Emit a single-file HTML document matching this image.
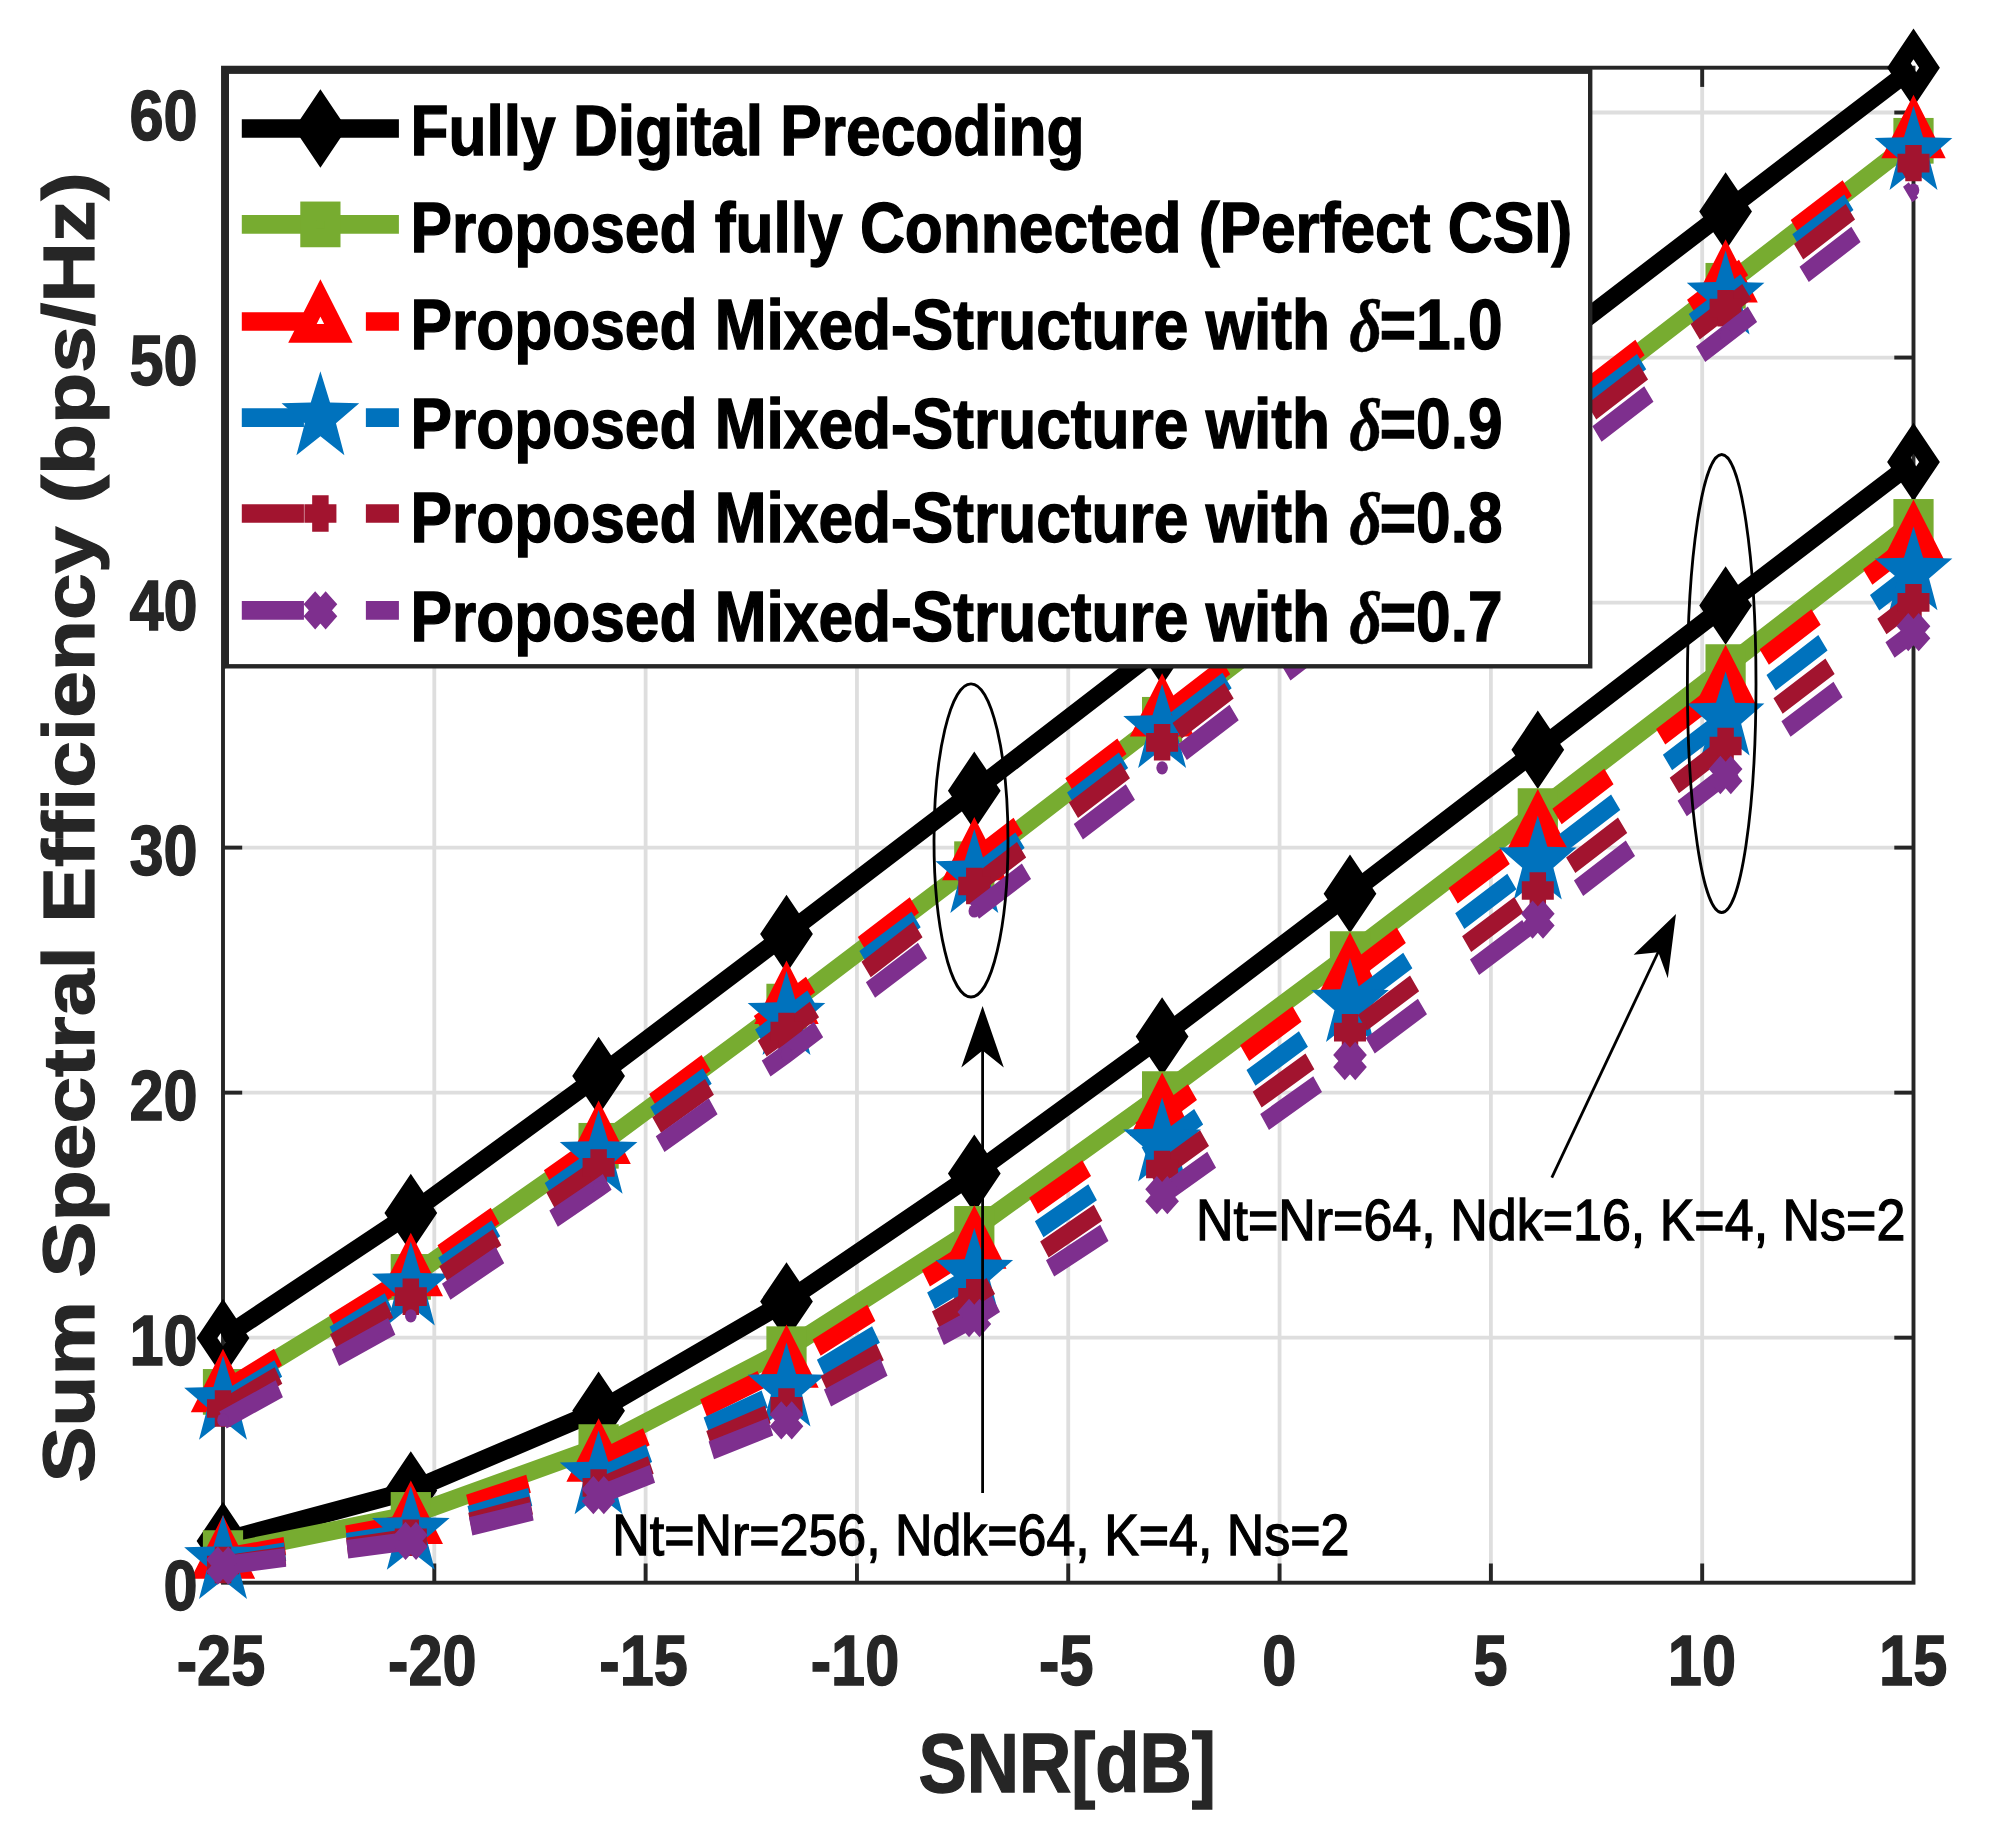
<!DOCTYPE html>
<html lang="en"><head><meta charset="utf-8"><title>Sum Spectral Efficiency vs SNR</title>
<style>html,body{margin:0;padding:0;background:#fff}svg{display:block}text{font-kerning:none;white-space:pre}.b{font-family:"Liberation Sans",sans-serif;font-weight:bold;stroke-width:1.4px;stroke-linejoin:miter}.r{font-family:"Liberation Sans",sans-serif;font-weight:normal;stroke-width:1.3px;stroke-linejoin:miter}.d{font-family:"Liberation Serif","DejaVu Serif",serif;font-style:italic;font-weight:bold;stroke-width:0.6px}</style></head><body>
<svg width="2015" height="1840" viewBox="0 0 2015 1840">
<rect x="0" y="0" width="2015" height="1840" fill="#fff"/>
<g stroke="#dedede" stroke-width="3.8" fill="none">
<line x1="434.31" y1="67.7" x2="434.31" y2="1582.7"/>
<line x1="645.62" y1="67.7" x2="645.62" y2="1582.7"/>
<line x1="856.94" y1="67.7" x2="856.94" y2="1582.7"/>
<line x1="1068.25" y1="67.7" x2="1068.25" y2="1582.7"/>
<line x1="1279.56" y1="67.7" x2="1279.56" y2="1582.7"/>
<line x1="1490.88" y1="67.7" x2="1490.88" y2="1582.7"/>
<line x1="1702.19" y1="67.7" x2="1702.19" y2="1582.7"/>
<line x1="223" y1="1337.67" x2="1913.5" y2="1337.67"/>
<line x1="223" y1="1092.64" x2="1913.5" y2="1092.64"/>
<line x1="223" y1="847.61" x2="1913.5" y2="847.61"/>
<line x1="223" y1="602.58" x2="1913.5" y2="602.58"/>
<line x1="223" y1="357.55" x2="1913.5" y2="357.55"/>
<line x1="223" y1="112.52" x2="1913.5" y2="112.52"/>
</g>
<g stroke="#262626" stroke-width="3.9" fill="none" stroke-linecap="butt">
<rect x="223" y="67.7" width="1690.5" height="1515"/>
<line x1="434.31" y1="1582.7" x2="434.31" y2="1563.5"/>
<line x1="434.31" y1="67.7" x2="434.31" y2="86.9"/>
<line x1="645.62" y1="1582.7" x2="645.62" y2="1563.5"/>
<line x1="645.62" y1="67.7" x2="645.62" y2="86.9"/>
<line x1="856.94" y1="1582.7" x2="856.94" y2="1563.5"/>
<line x1="856.94" y1="67.7" x2="856.94" y2="86.9"/>
<line x1="1068.25" y1="1582.7" x2="1068.25" y2="1563.5"/>
<line x1="1068.25" y1="67.7" x2="1068.25" y2="86.9"/>
<line x1="1279.56" y1="1582.7" x2="1279.56" y2="1563.5"/>
<line x1="1279.56" y1="67.7" x2="1279.56" y2="86.9"/>
<line x1="1490.88" y1="1582.7" x2="1490.88" y2="1563.5"/>
<line x1="1490.88" y1="67.7" x2="1490.88" y2="86.9"/>
<line x1="1702.19" y1="1582.7" x2="1702.19" y2="1563.5"/>
<line x1="1702.19" y1="67.7" x2="1702.19" y2="86.9"/>
<line x1="223" y1="1337.67" x2="242.2" y2="1337.67"/>
<line x1="1913.5" y1="1337.67" x2="1894.3" y2="1337.67"/>
<line x1="223" y1="1092.64" x2="242.2" y2="1092.64"/>
<line x1="1913.5" y1="1092.64" x2="1894.3" y2="1092.64"/>
<line x1="223" y1="847.61" x2="242.2" y2="847.61"/>
<line x1="1913.5" y1="847.61" x2="1894.3" y2="847.61"/>
<line x1="223" y1="602.58" x2="242.2" y2="602.58"/>
<line x1="1913.5" y1="602.58" x2="1894.3" y2="602.58"/>
<line x1="223" y1="357.55" x2="242.2" y2="357.55"/>
<line x1="1913.5" y1="357.55" x2="1894.3" y2="357.55"/>
<line x1="223" y1="112.52" x2="242.2" y2="112.52"/>
<line x1="1913.5" y1="112.52" x2="1894.3" y2="112.52"/>
</g>
<g transform="scale(0.88,1)">
<polyline points="253.41,1338 466.82,1213 680.23,1076 893.75,934 1107.16,790.7 1320.57,646.1 1534.09,500.8 1747.5,355.5 1960.91,211.4 2174.43,67.7" fill="none" stroke="#000000" stroke-width="18.7" stroke-linejoin="miter" stroke-linecap="butt"/>
<path transform="translate(253.41,1338)" d="M0,-23.8 L18.2,0 L0,23.8 L-18.2,0 Z" fill="none" stroke="#000000" stroke-width="18.7" stroke-linejoin="miter" stroke-miterlimit="10"/>
<path transform="translate(466.82,1213)" d="M0,-23.8 L18.2,0 L0,23.8 L-18.2,0 Z" fill="none" stroke="#000000" stroke-width="18.7" stroke-linejoin="miter" stroke-miterlimit="10"/>
<path transform="translate(680.23,1076)" d="M0,-23.8 L18.2,0 L0,23.8 L-18.2,0 Z" fill="none" stroke="#000000" stroke-width="18.7" stroke-linejoin="miter" stroke-miterlimit="10"/>
<path transform="translate(893.75,934)" d="M0,-23.8 L18.2,0 L0,23.8 L-18.2,0 Z" fill="none" stroke="#000000" stroke-width="18.7" stroke-linejoin="miter" stroke-miterlimit="10"/>
<path transform="translate(1107.16,790.7)" d="M0,-23.8 L18.2,0 L0,23.8 L-18.2,0 Z" fill="none" stroke="#000000" stroke-width="18.7" stroke-linejoin="miter" stroke-miterlimit="10"/>
<path transform="translate(1320.57,646.1)" d="M0,-23.8 L18.2,0 L0,23.8 L-18.2,0 Z" fill="none" stroke="#000000" stroke-width="18.7" stroke-linejoin="miter" stroke-miterlimit="10"/>
<path transform="translate(1534.09,500.8)" d="M0,-23.8 L18.2,0 L0,23.8 L-18.2,0 Z" fill="none" stroke="#000000" stroke-width="18.7" stroke-linejoin="miter" stroke-miterlimit="10"/>
<path transform="translate(1747.5,355.5)" d="M0,-23.8 L18.2,0 L0,23.8 L-18.2,0 Z" fill="none" stroke="#000000" stroke-width="18.7" stroke-linejoin="miter" stroke-miterlimit="10"/>
<path transform="translate(1960.91,211.4)" d="M0,-23.8 L18.2,0 L0,23.8 L-18.2,0 Z" fill="none" stroke="#000000" stroke-width="18.7" stroke-linejoin="miter" stroke-miterlimit="10"/>
<path transform="translate(2174.43,67.7)" d="M0,-23.8 L18.2,0 L0,23.8 L-18.2,0 Z" fill="none" stroke="#000000" stroke-width="18.7" stroke-linejoin="miter" stroke-miterlimit="10"/>
<polyline points="253.41,1391.9 466.82,1276.9 680.23,1145.8 893.75,1006.6 1107.16,864.2 1320.57,719.8 1534.09,575.7 1747.5,430.7 1960.91,285.8 2174.43,140.8" fill="none" stroke="#77AC30" stroke-width="18.7" stroke-linejoin="miter" stroke-linecap="butt"/>
<rect transform="translate(253.41,1391.9)" x="-13.5" y="-13.5" width="27" height="27" fill="none" stroke="#77AC30" stroke-width="18.7" stroke-linejoin="miter"/>
<rect transform="translate(466.82,1276.9)" x="-13.5" y="-13.5" width="27" height="27" fill="none" stroke="#77AC30" stroke-width="18.7" stroke-linejoin="miter"/>
<rect transform="translate(680.23,1145.8)" x="-13.5" y="-13.5" width="27" height="27" fill="none" stroke="#77AC30" stroke-width="18.7" stroke-linejoin="miter"/>
<rect transform="translate(893.75,1006.6)" x="-13.5" y="-13.5" width="27" height="27" fill="none" stroke="#77AC30" stroke-width="18.7" stroke-linejoin="miter"/>
<rect transform="translate(1107.16,864.2)" x="-13.5" y="-13.5" width="27" height="27" fill="none" stroke="#77AC30" stroke-width="18.7" stroke-linejoin="miter"/>
<rect transform="translate(1320.57,719.8)" x="-13.5" y="-13.5" width="27" height="27" fill="none" stroke="#77AC30" stroke-width="18.7" stroke-linejoin="miter"/>
<rect transform="translate(1534.09,575.7)" x="-13.5" y="-13.5" width="27" height="27" fill="none" stroke="#77AC30" stroke-width="18.7" stroke-linejoin="miter"/>
<rect transform="translate(1747.5,430.7)" x="-13.5" y="-13.5" width="27" height="27" fill="none" stroke="#77AC30" stroke-width="18.7" stroke-linejoin="miter"/>
<rect transform="translate(1960.91,285.8)" x="-13.5" y="-13.5" width="27" height="27" fill="none" stroke="#77AC30" stroke-width="18.7" stroke-linejoin="miter"/>
<rect transform="translate(2174.43,140.8)" x="-13.5" y="-13.5" width="27" height="27" fill="none" stroke="#77AC30" stroke-width="18.7" stroke-linejoin="miter"/>
<polyline points="253.41,1391 466.82,1275 680.23,1142.8 893.75,1002.8 1107.16,859.2 1320.57,715.4 1534.09,570.8 1747.5,426.3 1960.91,281.4 2174.43,137.1" fill="none" stroke="#FF0000" stroke-width="18.7" stroke-linejoin="miter" stroke-linecap="butt" stroke-dasharray="71.2 71.0"/>
<path transform="translate(253.41,1391)" d="M0,-23.56 L20.4,11.78 L-20.4,11.78 Z" fill="none" stroke="#FF0000" stroke-width="18.7" stroke-linejoin="miter" stroke-miterlimit="10"/>
<path transform="translate(466.82,1275)" d="M0,-23.56 L20.4,11.78 L-20.4,11.78 Z" fill="none" stroke="#FF0000" stroke-width="18.7" stroke-linejoin="miter" stroke-miterlimit="10"/>
<path transform="translate(680.23,1142.8)" d="M0,-23.56 L20.4,11.78 L-20.4,11.78 Z" fill="none" stroke="#FF0000" stroke-width="18.7" stroke-linejoin="miter" stroke-miterlimit="10"/>
<path transform="translate(893.75,1002.8)" d="M0,-23.56 L20.4,11.78 L-20.4,11.78 Z" fill="none" stroke="#FF0000" stroke-width="18.7" stroke-linejoin="miter" stroke-miterlimit="10"/>
<path transform="translate(1107.16,859.2)" d="M0,-23.56 L20.4,11.78 L-20.4,11.78 Z" fill="none" stroke="#FF0000" stroke-width="18.7" stroke-linejoin="miter" stroke-miterlimit="10"/>
<path transform="translate(1320.57,715.4)" d="M0,-23.56 L20.4,11.78 L-20.4,11.78 Z" fill="none" stroke="#FF0000" stroke-width="18.7" stroke-linejoin="miter" stroke-miterlimit="10"/>
<path transform="translate(1534.09,570.8)" d="M0,-23.56 L20.4,11.78 L-20.4,11.78 Z" fill="none" stroke="#FF0000" stroke-width="18.7" stroke-linejoin="miter" stroke-miterlimit="10"/>
<path transform="translate(1747.5,426.3)" d="M0,-23.56 L20.4,11.78 L-20.4,11.78 Z" fill="none" stroke="#FF0000" stroke-width="18.7" stroke-linejoin="miter" stroke-miterlimit="10"/>
<path transform="translate(1960.91,281.4)" d="M0,-23.56 L20.4,11.78 L-20.4,11.78 Z" fill="none" stroke="#FF0000" stroke-width="18.7" stroke-linejoin="miter" stroke-miterlimit="10"/>
<path transform="translate(2174.43,137.1)" d="M0,-23.56 L20.4,11.78 L-20.4,11.78 Z" fill="none" stroke="#FF0000" stroke-width="18.7" stroke-linejoin="miter" stroke-miterlimit="10"/>
<polyline points="253.41,1402.1 466.82,1288 680.23,1156.3 893.75,1017.4 1107.16,875.5 1320.57,730.4 1534.09,585.8 1747.5,441.5 1960.91,297 2174.43,152.4" fill="none" stroke="#0072BD" stroke-width="18.7" stroke-linejoin="miter" stroke-linecap="butt" stroke-dasharray="71.2 71.0"/>
<polygon transform="translate(253.41,1402.1)" points="0,-46.4 10.93,-15.05 44.13,-14.34 17.69,5.75 27.27,37.54 0,18.6 -27.27,37.54 -17.69,5.75 -44.13,-14.34 -10.93,-15.05" fill="#0072BD"/>
<polygon transform="translate(466.82,1288)" points="0,-46.4 10.93,-15.05 44.13,-14.34 17.69,5.75 27.27,37.54 0,18.6 -27.27,37.54 -17.69,5.75 -44.13,-14.34 -10.93,-15.05" fill="#0072BD"/>
<polygon transform="translate(680.23,1156.3)" points="0,-46.4 10.93,-15.05 44.13,-14.34 17.69,5.75 27.27,37.54 0,18.6 -27.27,37.54 -17.69,5.75 -44.13,-14.34 -10.93,-15.05" fill="#0072BD"/>
<polygon transform="translate(893.75,1017.4)" points="0,-46.4 10.93,-15.05 44.13,-14.34 17.69,5.75 27.27,37.54 0,18.6 -27.27,37.54 -17.69,5.75 -44.13,-14.34 -10.93,-15.05" fill="#0072BD"/>
<polygon transform="translate(1107.16,875.5)" points="0,-46.4 10.93,-15.05 44.13,-14.34 17.69,5.75 27.27,37.54 0,18.6 -27.27,37.54 -17.69,5.75 -44.13,-14.34 -10.93,-15.05" fill="#0072BD"/>
<polygon transform="translate(1320.57,730.4)" points="0,-46.4 10.93,-15.05 44.13,-14.34 17.69,5.75 27.27,37.54 0,18.6 -27.27,37.54 -17.69,5.75 -44.13,-14.34 -10.93,-15.05" fill="#0072BD"/>
<polygon transform="translate(1534.09,585.8)" points="0,-46.4 10.93,-15.05 44.13,-14.34 17.69,5.75 27.27,37.54 0,18.6 -27.27,37.54 -17.69,5.75 -44.13,-14.34 -10.93,-15.05" fill="#0072BD"/>
<polygon transform="translate(1747.5,441.5)" points="0,-46.4 10.93,-15.05 44.13,-14.34 17.69,5.75 27.27,37.54 0,18.6 -27.27,37.54 -17.69,5.75 -44.13,-14.34 -10.93,-15.05" fill="#0072BD"/>
<polygon transform="translate(1960.91,297)" points="0,-46.4 10.93,-15.05 44.13,-14.34 17.69,5.75 27.27,37.54 0,18.6 -27.27,37.54 -17.69,5.75 -44.13,-14.34 -10.93,-15.05" fill="#0072BD"/>
<polygon transform="translate(2174.43,152.4)" points="0,-46.4 10.93,-15.05 44.13,-14.34 17.69,5.75 27.27,37.54 0,18.6 -27.27,37.54 -17.69,5.75 -44.13,-14.34 -10.93,-15.05" fill="#0072BD"/>
<polyline points="253.41,1408.5 466.82,1296.7 680.23,1167.4 893.75,1031 1107.16,886 1320.57,742.3 1534.09,597.8 1747.5,453.3 1960.91,308.2 2174.43,163.1" fill="none" stroke="#A2142F" stroke-width="18.7" stroke-linejoin="miter" stroke-linecap="butt" stroke-dasharray="71.2 71.0"/>
<path transform="translate(253.41,1408.5)" d="M-18.2,0 H18.2 M0,-18.2 V18.2" fill="none" stroke="#A2142F" stroke-width="18.7"/>
<path transform="translate(466.82,1296.7)" d="M-18.2,0 H18.2 M0,-18.2 V18.2" fill="none" stroke="#A2142F" stroke-width="18.7"/>
<path transform="translate(680.23,1167.4)" d="M-18.2,0 H18.2 M0,-18.2 V18.2" fill="none" stroke="#A2142F" stroke-width="18.7"/>
<path transform="translate(893.75,1031)" d="M-18.2,0 H18.2 M0,-18.2 V18.2" fill="none" stroke="#A2142F" stroke-width="18.7"/>
<path transform="translate(1107.16,886)" d="M-18.2,0 H18.2 M0,-18.2 V18.2" fill="none" stroke="#A2142F" stroke-width="18.7"/>
<path transform="translate(1320.57,742.3)" d="M-18.2,0 H18.2 M0,-18.2 V18.2" fill="none" stroke="#A2142F" stroke-width="18.7"/>
<path transform="translate(1534.09,597.8)" d="M-18.2,0 H18.2 M0,-18.2 V18.2" fill="none" stroke="#A2142F" stroke-width="18.7"/>
<path transform="translate(1747.5,453.3)" d="M-18.2,0 H18.2 M0,-18.2 V18.2" fill="none" stroke="#A2142F" stroke-width="18.7"/>
<path transform="translate(1960.91,308.2)" d="M-18.2,0 H18.2 M0,-18.2 V18.2" fill="none" stroke="#A2142F" stroke-width="18.7"/>
<path transform="translate(2174.43,163.1)" d="M-18.2,0 H18.2 M0,-18.2 V18.2" fill="none" stroke="#A2142F" stroke-width="18.7"/>
<polyline points="253.41,1420 466.82,1315.8 680.23,1188 893.75,1054 1107.16,911 1320.57,767.8 1534.09,623.5 1747.5,479.5 1960.91,335 2174.43,190" fill="none" stroke="#7E2F8E" stroke-width="18.7" stroke-linejoin="miter" stroke-linecap="butt" stroke-dasharray="71.2 71.0"/>
<circle transform="translate(253.41,1420)" r="6.6" fill="#7E2F8E"/>
<circle transform="translate(466.82,1315.8)" r="6.6" fill="#7E2F8E"/>
<circle transform="translate(680.23,1188)" r="6.6" fill="#7E2F8E"/>
<circle transform="translate(893.75,1054)" r="6.6" fill="#7E2F8E"/>
<circle transform="translate(1107.16,911)" r="6.6" fill="#7E2F8E"/>
<circle transform="translate(1320.57,767.8)" r="6.6" fill="#7E2F8E"/>
<circle transform="translate(1534.09,623.5)" r="6.6" fill="#7E2F8E"/>
<circle transform="translate(1747.5,479.5)" r="6.6" fill="#7E2F8E"/>
<circle transform="translate(1960.91,335)" r="6.6" fill="#7E2F8E"/>
<circle transform="translate(2174.43,190)" r="6.6" fill="#7E2F8E"/>
<polyline points="253.41,1541 466.82,1490.5 680.23,1410.7 893.75,1301.4 1107.16,1173.6 1320.57,1036.5 1534.09,893.8 1747.5,749.8 1960.91,605.5 2174.43,462" fill="none" stroke="#000000" stroke-width="18.7" stroke-linejoin="miter" stroke-linecap="butt"/>
<path transform="translate(253.41,1541)" d="M0,-23.8 L18.2,0 L0,23.8 L-18.2,0 Z" fill="none" stroke="#000000" stroke-width="18.7" stroke-linejoin="miter" stroke-miterlimit="10"/>
<path transform="translate(466.82,1490.5)" d="M0,-23.8 L18.2,0 L0,23.8 L-18.2,0 Z" fill="none" stroke="#000000" stroke-width="18.7" stroke-linejoin="miter" stroke-miterlimit="10"/>
<path transform="translate(680.23,1410.7)" d="M0,-23.8 L18.2,0 L0,23.8 L-18.2,0 Z" fill="none" stroke="#000000" stroke-width="18.7" stroke-linejoin="miter" stroke-miterlimit="10"/>
<path transform="translate(893.75,1301.4)" d="M0,-23.8 L18.2,0 L0,23.8 L-18.2,0 Z" fill="none" stroke="#000000" stroke-width="18.7" stroke-linejoin="miter" stroke-miterlimit="10"/>
<path transform="translate(1107.16,1173.6)" d="M0,-23.8 L18.2,0 L0,23.8 L-18.2,0 Z" fill="none" stroke="#000000" stroke-width="18.7" stroke-linejoin="miter" stroke-miterlimit="10"/>
<path transform="translate(1320.57,1036.5)" d="M0,-23.8 L18.2,0 L0,23.8 L-18.2,0 Z" fill="none" stroke="#000000" stroke-width="18.7" stroke-linejoin="miter" stroke-miterlimit="10"/>
<path transform="translate(1534.09,893.8)" d="M0,-23.8 L18.2,0 L0,23.8 L-18.2,0 Z" fill="none" stroke="#000000" stroke-width="18.7" stroke-linejoin="miter" stroke-miterlimit="10"/>
<path transform="translate(1747.5,749.8)" d="M0,-23.8 L18.2,0 L0,23.8 L-18.2,0 Z" fill="none" stroke="#000000" stroke-width="18.7" stroke-linejoin="miter" stroke-miterlimit="10"/>
<path transform="translate(1960.91,605.5)" d="M0,-23.8 L18.2,0 L0,23.8 L-18.2,0 Z" fill="none" stroke="#000000" stroke-width="18.7" stroke-linejoin="miter" stroke-miterlimit="10"/>
<path transform="translate(2174.43,462)" d="M0,-23.8 L18.2,0 L0,23.8 L-18.2,0 Z" fill="none" stroke="#000000" stroke-width="18.7" stroke-linejoin="miter" stroke-miterlimit="10"/>
<polyline points="253.41,1553.1 466.82,1514.9 680.23,1447.1 893.75,1349.2 1107.16,1228.9 1320.57,1094.1 1534.09,954.1 1747.5,811.1 1960.91,667.1 2174.43,521.9" fill="none" stroke="#77AC30" stroke-width="18.7" stroke-linejoin="miter" stroke-linecap="butt"/>
<rect transform="translate(253.41,1553.1)" x="-13.5" y="-13.5" width="27" height="27" fill="none" stroke="#77AC30" stroke-width="18.7" stroke-linejoin="miter"/>
<rect transform="translate(466.82,1514.9)" x="-13.5" y="-13.5" width="27" height="27" fill="none" stroke="#77AC30" stroke-width="18.7" stroke-linejoin="miter"/>
<rect transform="translate(680.23,1447.1)" x="-13.5" y="-13.5" width="27" height="27" fill="none" stroke="#77AC30" stroke-width="18.7" stroke-linejoin="miter"/>
<rect transform="translate(893.75,1349.2)" x="-13.5" y="-13.5" width="27" height="27" fill="none" stroke="#77AC30" stroke-width="18.7" stroke-linejoin="miter"/>
<rect transform="translate(1107.16,1228.9)" x="-13.5" y="-13.5" width="27" height="27" fill="none" stroke="#77AC30" stroke-width="18.7" stroke-linejoin="miter"/>
<rect transform="translate(1320.57,1094.1)" x="-13.5" y="-13.5" width="27" height="27" fill="none" stroke="#77AC30" stroke-width="18.7" stroke-linejoin="miter"/>
<rect transform="translate(1534.09,954.1)" x="-13.5" y="-13.5" width="27" height="27" fill="none" stroke="#77AC30" stroke-width="18.7" stroke-linejoin="miter"/>
<rect transform="translate(1747.5,811.1)" x="-13.5" y="-13.5" width="27" height="27" fill="none" stroke="#77AC30" stroke-width="18.7" stroke-linejoin="miter"/>
<rect transform="translate(1960.91,667.1)" x="-13.5" y="-13.5" width="27" height="27" fill="none" stroke="#77AC30" stroke-width="18.7" stroke-linejoin="miter"/>
<rect transform="translate(2174.43,521.9)" x="-13.5" y="-13.5" width="27" height="27" fill="none" stroke="#77AC30" stroke-width="18.7" stroke-linejoin="miter"/>
<polyline points="253.41,1557.6 466.82,1522.8 680.23,1460.6 893.75,1366.7 1107.16,1247.6 1320.57,1114.8 1534.09,974.4 1747.5,831.3 1960.91,686.9 2174.43,541.7" fill="none" stroke="#FF0000" stroke-width="18.7" stroke-linejoin="miter" stroke-linecap="butt" stroke-dasharray="71.2 71.0"/>
<path transform="translate(253.41,1557.6)" d="M0,-23.56 L20.4,11.78 L-20.4,11.78 Z" fill="none" stroke="#FF0000" stroke-width="18.7" stroke-linejoin="miter" stroke-miterlimit="10"/>
<path transform="translate(466.82,1522.8)" d="M0,-23.56 L20.4,11.78 L-20.4,11.78 Z" fill="none" stroke="#FF0000" stroke-width="18.7" stroke-linejoin="miter" stroke-miterlimit="10"/>
<path transform="translate(680.23,1460.6)" d="M0,-23.56 L20.4,11.78 L-20.4,11.78 Z" fill="none" stroke="#FF0000" stroke-width="18.7" stroke-linejoin="miter" stroke-miterlimit="10"/>
<path transform="translate(893.75,1366.7)" d="M0,-23.56 L20.4,11.78 L-20.4,11.78 Z" fill="none" stroke="#FF0000" stroke-width="18.7" stroke-linejoin="miter" stroke-miterlimit="10"/>
<path transform="translate(1107.16,1247.6)" d="M0,-23.56 L20.4,11.78 L-20.4,11.78 Z" fill="none" stroke="#FF0000" stroke-width="18.7" stroke-linejoin="miter" stroke-miterlimit="10"/>
<path transform="translate(1320.57,1114.8)" d="M0,-23.56 L20.4,11.78 L-20.4,11.78 Z" fill="none" stroke="#FF0000" stroke-width="18.7" stroke-linejoin="miter" stroke-miterlimit="10"/>
<path transform="translate(1534.09,974.4)" d="M0,-23.56 L20.4,11.78 L-20.4,11.78 Z" fill="none" stroke="#FF0000" stroke-width="18.7" stroke-linejoin="miter" stroke-miterlimit="10"/>
<path transform="translate(1747.5,831.3)" d="M0,-23.56 L20.4,11.78 L-20.4,11.78 Z" fill="none" stroke="#FF0000" stroke-width="18.7" stroke-linejoin="miter" stroke-miterlimit="10"/>
<path transform="translate(1960.91,686.9)" d="M0,-23.56 L20.4,11.78 L-20.4,11.78 Z" fill="none" stroke="#FF0000" stroke-width="18.7" stroke-linejoin="miter" stroke-miterlimit="10"/>
<path transform="translate(2174.43,541.7)" d="M0,-23.56 L20.4,11.78 L-20.4,11.78 Z" fill="none" stroke="#FF0000" stroke-width="18.7" stroke-linejoin="miter" stroke-miterlimit="10"/>
<polyline points="253.41,1561.5 466.82,1532.3 680.23,1476.8 893.75,1389 1107.16,1274.4 1320.57,1143.9 1534.09,1004.4 1747.5,861.9 1960.91,717.9 2174.43,572.8" fill="none" stroke="#0072BD" stroke-width="18.7" stroke-linejoin="miter" stroke-linecap="butt" stroke-dasharray="71.2 71.0"/>
<polygon transform="translate(253.41,1561.5)" points="0,-46.4 10.93,-15.05 44.13,-14.34 17.69,5.75 27.27,37.54 0,18.6 -27.27,37.54 -17.69,5.75 -44.13,-14.34 -10.93,-15.05" fill="#0072BD"/>
<polygon transform="translate(466.82,1532.3)" points="0,-46.4 10.93,-15.05 44.13,-14.34 17.69,5.75 27.27,37.54 0,18.6 -27.27,37.54 -17.69,5.75 -44.13,-14.34 -10.93,-15.05" fill="#0072BD"/>
<polygon transform="translate(680.23,1476.8)" points="0,-46.4 10.93,-15.05 44.13,-14.34 17.69,5.75 27.27,37.54 0,18.6 -27.27,37.54 -17.69,5.75 -44.13,-14.34 -10.93,-15.05" fill="#0072BD"/>
<polygon transform="translate(893.75,1389)" points="0,-46.4 10.93,-15.05 44.13,-14.34 17.69,5.75 27.27,37.54 0,18.6 -27.27,37.54 -17.69,5.75 -44.13,-14.34 -10.93,-15.05" fill="#0072BD"/>
<polygon transform="translate(1107.16,1274.4)" points="0,-46.4 10.93,-15.05 44.13,-14.34 17.69,5.75 27.27,37.54 0,18.6 -27.27,37.54 -17.69,5.75 -44.13,-14.34 -10.93,-15.05" fill="#0072BD"/>
<polygon transform="translate(1320.57,1143.9)" points="0,-46.4 10.93,-15.05 44.13,-14.34 17.69,5.75 27.27,37.54 0,18.6 -27.27,37.54 -17.69,5.75 -44.13,-14.34 -10.93,-15.05" fill="#0072BD"/>
<polygon transform="translate(1534.09,1004.4)" points="0,-46.4 10.93,-15.05 44.13,-14.34 17.69,5.75 27.27,37.54 0,18.6 -27.27,37.54 -17.69,5.75 -44.13,-14.34 -10.93,-15.05" fill="#0072BD"/>
<polygon transform="translate(1747.5,861.9)" points="0,-46.4 10.93,-15.05 44.13,-14.34 17.69,5.75 27.27,37.54 0,18.6 -27.27,37.54 -17.69,5.75 -44.13,-14.34 -10.93,-15.05" fill="#0072BD"/>
<polygon transform="translate(1960.91,717.9)" points="0,-46.4 10.93,-15.05 44.13,-14.34 17.69,5.75 27.27,37.54 0,18.6 -27.27,37.54 -17.69,5.75 -44.13,-14.34 -10.93,-15.05" fill="#0072BD"/>
<polygon transform="translate(2174.43,572.8)" points="0,-46.4 10.93,-15.05 44.13,-14.34 17.69,5.75 27.27,37.54 0,18.6 -27.27,37.54 -17.69,5.75 -44.13,-14.34 -10.93,-15.05" fill="#0072BD"/>
<polyline points="253.41,1565 466.82,1537.8 680.23,1487.4 893.75,1406.4 1107.16,1297.3 1320.57,1169 1534.09,1032.1 1747.5,890.5 1960.91,746 2174.43,602.3" fill="none" stroke="#A2142F" stroke-width="18.7" stroke-linejoin="miter" stroke-linecap="butt" stroke-dasharray="71.2 71.0"/>
<path transform="translate(253.41,1565)" d="M-18.2,0 H18.2 M0,-18.2 V18.2" fill="none" stroke="#A2142F" stroke-width="18.7"/>
<path transform="translate(466.82,1537.8)" d="M-18.2,0 H18.2 M0,-18.2 V18.2" fill="none" stroke="#A2142F" stroke-width="18.7"/>
<path transform="translate(680.23,1487.4)" d="M-18.2,0 H18.2 M0,-18.2 V18.2" fill="none" stroke="#A2142F" stroke-width="18.7"/>
<path transform="translate(893.75,1406.4)" d="M-18.2,0 H18.2 M0,-18.2 V18.2" fill="none" stroke="#A2142F" stroke-width="18.7"/>
<path transform="translate(1107.16,1297.3)" d="M-18.2,0 H18.2 M0,-18.2 V18.2" fill="none" stroke="#A2142F" stroke-width="18.7"/>
<path transform="translate(1320.57,1169)" d="M-18.2,0 H18.2 M0,-18.2 V18.2" fill="none" stroke="#A2142F" stroke-width="18.7"/>
<path transform="translate(1534.09,1032.1)" d="M-18.2,0 H18.2 M0,-18.2 V18.2" fill="none" stroke="#A2142F" stroke-width="18.7"/>
<path transform="translate(1747.5,890.5)" d="M-18.2,0 H18.2 M0,-18.2 V18.2" fill="none" stroke="#A2142F" stroke-width="18.7"/>
<path transform="translate(1960.91,746)" d="M-18.2,0 H18.2 M0,-18.2 V18.2" fill="none" stroke="#A2142F" stroke-width="18.7"/>
<path transform="translate(2174.43,602.3)" d="M-18.2,0 H18.2 M0,-18.2 V18.2" fill="none" stroke="#A2142F" stroke-width="18.7"/>
<polyline points="253.41,1565.6 466.82,1540.9 680.23,1495.2 893.75,1420.4 1107.16,1318 1320.57,1195.2 1534.09,1061 1747.5,919.6 1960.91,775 2174.43,632.2" fill="none" stroke="#7E2F8E" stroke-width="18.7" stroke-linejoin="miter" stroke-linecap="butt" stroke-dasharray="71.2 71.0"/>
<path transform="translate(253.41,1565.6)" d="M-12.55,-12.55 L12.55,12.55 M-12.55,12.55 L12.55,-12.55" fill="none" stroke="#7E2F8E" stroke-width="18.7"/>
<path transform="translate(466.82,1540.9)" d="M-12.55,-12.55 L12.55,12.55 M-12.55,12.55 L12.55,-12.55" fill="none" stroke="#7E2F8E" stroke-width="18.7"/>
<path transform="translate(680.23,1495.2)" d="M-12.55,-12.55 L12.55,12.55 M-12.55,12.55 L12.55,-12.55" fill="none" stroke="#7E2F8E" stroke-width="18.7"/>
<path transform="translate(893.75,1420.4)" d="M-12.55,-12.55 L12.55,12.55 M-12.55,12.55 L12.55,-12.55" fill="none" stroke="#7E2F8E" stroke-width="18.7"/>
<path transform="translate(1107.16,1318)" d="M-12.55,-12.55 L12.55,12.55 M-12.55,12.55 L12.55,-12.55" fill="none" stroke="#7E2F8E" stroke-width="18.7"/>
<path transform="translate(1320.57,1195.2)" d="M-12.55,-12.55 L12.55,12.55 M-12.55,12.55 L12.55,-12.55" fill="none" stroke="#7E2F8E" stroke-width="18.7"/>
<path transform="translate(1534.09,1061)" d="M-12.55,-12.55 L12.55,12.55 M-12.55,12.55 L12.55,-12.55" fill="none" stroke="#7E2F8E" stroke-width="18.7"/>
<path transform="translate(1747.5,919.6)" d="M-12.55,-12.55 L12.55,12.55 M-12.55,12.55 L12.55,-12.55" fill="none" stroke="#7E2F8E" stroke-width="18.7"/>
<path transform="translate(1960.91,775)" d="M-12.55,-12.55 L12.55,12.55 M-12.55,12.55 L12.55,-12.55" fill="none" stroke="#7E2F8E" stroke-width="18.7"/>
<path transform="translate(2174.43,632.2)" d="M-12.55,-12.55 L12.55,12.55 M-12.55,12.55 L12.55,-12.55" fill="none" stroke="#7E2F8E" stroke-width="18.7"/>
</g>
<rect x="226.8" y="71.7" width="1363.4" height="594.6" fill="#fff" stroke="#262626" stroke-width="4.4"/>
<path d="M223,69.8 H1592.1 M225,67.7 V668.2" stroke="#262626" stroke-width="1.6" fill="none"/>
<g transform="scale(0.88,1)">
<line x1="274.77" y1="128.5" x2="453.3" y2="128.5" stroke="#000000" stroke-width="18.7"/>
<path transform="translate(364.09,128.5)" d="M0,-23.8 L18.2,0 L0,23.8 L-18.2,0 Z" fill="none" stroke="#000000" stroke-width="18.7" stroke-linejoin="miter" stroke-miterlimit="10"/>
<line x1="274.77" y1="224.4" x2="453.3" y2="224.4" stroke="#77AC30" stroke-width="18.7"/>
<rect transform="translate(364.09,224.4)" x="-13.5" y="-13.5" width="27" height="27" fill="none" stroke="#77AC30" stroke-width="18.7" stroke-linejoin="miter"/>
<line x1="274.77" y1="321.5" x2="453.3" y2="321.5" stroke="#FF0000" stroke-width="18.7" stroke-dasharray="70.6 70.4"/>
<path transform="translate(364.09,321.5)" d="M0,-23.56 L20.4,11.78 L-20.4,11.78 Z" fill="none" stroke="#FF0000" stroke-width="18.7" stroke-linejoin="miter" stroke-miterlimit="10"/>
<line x1="274.77" y1="417.6" x2="453.3" y2="417.6" stroke="#0072BD" stroke-width="18.7" stroke-dasharray="70.6 70.4"/>
<polygon transform="translate(364.09,417.6)" points="0,-46.4 10.93,-15.05 44.13,-14.34 17.69,5.75 27.27,37.54 0,18.6 -27.27,37.54 -17.69,5.75 -44.13,-14.34 -10.93,-15.05" fill="#0072BD"/>
<line x1="274.77" y1="513.5" x2="453.3" y2="513.5" stroke="#A2142F" stroke-width="18.7" stroke-dasharray="70.6 70.4"/>
<path transform="translate(364.09,513.5)" d="M-18.2,0 H18.2 M0,-18.2 V18.2" fill="none" stroke="#A2142F" stroke-width="18.7"/>
<line x1="274.77" y1="610.3" x2="453.3" y2="610.3" stroke="#7E2F8E" stroke-width="18.7" stroke-dasharray="70.6 70.4"/>
<path transform="translate(364.09,610.3)" d="M-12.55,-12.55 L12.55,12.55 M-12.55,12.55 L12.55,-12.55" fill="none" stroke="#7E2F8E" stroke-width="18.7"/>
</g>
<g class="b" font-size="70.5" fill="#000" stroke="#000">
<text transform="translate(410.44,155.2) scale(0.8828,1)">Fully Digital Precoding</text>
<text transform="translate(410.44,251.9) scale(0.8828,1)">Proposed fully Connected (Perfect CSI)</text>
<text transform="translate(410.44,349.3) scale(0.8828,1)">Proposed Mixed-Structure with </text>
<text transform="translate(1379.72,349.3) scale(0.8828,1)">=1.0</text>
<text transform="translate(410.44,448.2) scale(0.8828,1)">Proposed Mixed-Structure with </text>
<text transform="translate(1379.72,448.2) scale(0.8828,1)">=0.9</text>
<text transform="translate(410.44,542.1) scale(0.8828,1)">Proposed Mixed-Structure with </text>
<text transform="translate(1379.72,542.1) scale(0.8828,1)">=0.8</text>
<text transform="translate(410.44,641.1) scale(0.8828,1)">Proposed Mixed-Structure with </text>
<text transform="translate(1379.72,641.1) scale(0.8828,1)">=0.7</text>
</g>
<text class="d" transform="translate(1349.51,351.37) scale(0.8500,1)" font-size="74.52" fill="#000" stroke="#000">δ</text>
<text class="d" transform="translate(1349.51,450.27) scale(0.8500,1)" font-size="74.52" fill="#000" stroke="#000">δ</text>
<text class="d" transform="translate(1349.51,544.17) scale(0.8500,1)" font-size="74.52" fill="#000" stroke="#000">δ</text>
<text class="d" transform="translate(1349.51,643.17) scale(0.8500,1)" font-size="74.52" fill="#000" stroke="#000">δ</text>
<g class="b" font-size="69.63" fill="#262626" stroke="#262626">
<text text-anchor="middle" transform="translate(221,1684.6) scale(0.8804,1)">-25</text>
<text text-anchor="middle" transform="translate(432.31,1684.6) scale(0.8804,1)">-20</text>
<text text-anchor="middle" transform="translate(643.62,1684.6) scale(0.8804,1)">-15</text>
<text text-anchor="middle" transform="translate(854.94,1684.6) scale(0.8804,1)">-10</text>
<text text-anchor="middle" transform="translate(1066.25,1684.6) scale(0.8804,1)">-5</text>
<text text-anchor="middle" transform="translate(1279.26,1684.6) scale(0.8804,1)">0</text>
<text text-anchor="middle" transform="translate(1490.58,1684.6) scale(0.8804,1)">5</text>
<text text-anchor="middle" transform="translate(1701.89,1684.6) scale(0.8804,1)">10</text>
<text text-anchor="middle" transform="translate(1913.2,1684.6) scale(0.8804,1)">15</text>
<text text-anchor="end" transform="translate(197.61,1610) scale(0.8804,1)">0</text>
<text text-anchor="end" transform="translate(197.61,1364.97) scale(0.8804,1)">10</text>
<text text-anchor="end" transform="translate(197.61,1119.94) scale(0.8804,1)">20</text>
<text text-anchor="end" transform="translate(197.61,874.91) scale(0.8804,1)">30</text>
<text text-anchor="end" transform="translate(197.61,629.88) scale(0.8804,1)">40</text>
<text text-anchor="end" transform="translate(197.61,384.85) scale(0.8804,1)">50</text>
<text text-anchor="end" transform="translate(197.61,139.82) scale(0.8804,1)">60</text>
</g>
<text class="b" transform="translate(918.52,1792.2) scale(0.8653,1)" font-size="83.58" fill="#262626" stroke="#262626">SNR[dB]</text>
<text class="b" transform="translate(93.5,1482.62) rotate(-90) scale(1.0042,0.8665)" font-size="83.58" fill="#262626" stroke="#262626">Sum Spectral Efficiency (bps/Hz)</text>
<g fill="none" stroke="#000" stroke-width="2.8">
<ellipse cx="971.0" cy="840.4" rx="37.0" ry="156.6"/>
<ellipse cx="1721.7" cy="683.5" rx="34.3" ry="229.0"/>
<line x1="982.6" y1="1493" x2="982.6" y2="1040"/>
<line x1="1551.8" y1="1177.7" x2="1662" y2="944"/>
</g>
<polygon points="982.6,1006.1 1003.8,1067.5 982.6,1050.4 961.3,1067.5" fill="#000"/>
<polygon points="1676,913.9 1667.8,978.3 1658.3,952.2 1633.6,954.8" fill="#000"/>
<text class="r" transform="translate(612.24,1554.5) scale(0.8997,1)" font-size="57.7" fill="#000" stroke="#000">Nt=Nr=256, Ndk=64, K=4, Ns=2</text>
<text class="r" transform="translate(1195.93,1239.8) scale(0.9012,1)" font-size="57.7" fill="#000" stroke="#000">Nt=Nr=64, Ndk=16, K=4, Ns=2</text>
</svg></body></html>
